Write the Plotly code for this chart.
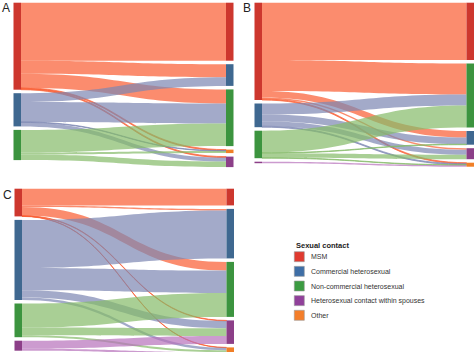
import plotly.graph_objects as go

# ---------------- data ----------------
categories = ["MSM", "Commercial heterosexual", "Non-commercial heterosexual",
              "Heterosexual contact within spouses", "Other"]
legend_title = "Sexual contact"
panel_labels = ["A", "B", "C"]

node_colors = ["#CD372E", "#3F6890", "#3C943F", "#8C3F88", "#F07F27"]
link_colors = ["rgba(249,91,49,0.7)", "rgba(124,134,178,0.7)", "rgba(132,187,104,0.7)",
               "rgba(182,112,186,0.7)", "rgba(244,134,48,0.7)"]
legend_colors = ["#E03A2F", "#3E6EA6", "#3B9B41", "#90409A", "#F47E2A"]

# flow matrices: rows = source category (left column), cols = target category (right column)
# order of rows/cols follows `categories`
flows_A = [
    [58.0, 13.0, 14.0, 1.0, 1.0],
    [0.0, 8.7, 20.0, 4.0, 0.5],
    [0.0, 0.0, 22.7, 5.5, 2.0],
    [0.0, 0.0, 0.0, 0.0, 0.0],
]
left_A = [0, 1, 2]
right_A = [0, 1, 2, 4, 3]

flows_B = [
    [57.3, 6.5, 31.0, 1.5, 1.0],
    [0.0, 6.7, 11.0, 5.0, 1.0],
    [0.0, 0.5, 22.0, 4.5, 0.5],
    [0.0, 0.0, 0.0, 0.0, 1.5],
]
left_B = [0, 1, 2, 3]
right_B = [0, 2, 1, 3, 4]

flows_C = [
    [16.7, 1.5, 8.7, 0.5, 0.3],
    [0.0, 48.0, 22.3, 7.3, 2.5],
    [0.0, 0.0, 24.0, 7.7, 2.0],
    [0.0, 0.0, 0.0, 8.0, 2.0],
]
left_C = [0, 1, 2, 3]
right_C = [0, 1, 2, 3, 4]

# ---------------- layout helpers ----------------
W, H = 474, 352
THICK = 7.5
GAP = 3.5


def sankey_trace(flows, left_order, right_order, box):
    x0, x1, ytop, ybot = box
    dw = x1 - x0
    dh = ybot - ytop
    nrows = len(flows)
    left_vals = [sum(flows[c]) for c in left_order]
    right_vals = [sum(flows[r][c] for r in range(nrows)) for c in right_order]
    total = sum(left_vals)
    ncol = max(len(left_order), len(right_order))
    pad = (dh - total) / (ncol - 1)  # gives 1 px per unit

    xs, ys, cols = [], [], []
    for order, vals, xf in ((left_order, left_vals, THICK / 2 / dw),
                            (right_order, right_vals, 1 - THICK / 2 / dw)):
        cum = 0.0
        for c, v in zip(order, vals):
            xs.append(xf)
            ys.append((cum + v / 2) / dh)
            cols.append(node_colors[c])
            cum += v + GAP

    src, tgt, val, lcol = [], [], [], []
    nl = len(left_order)
    for i, s in enumerate(left_order):
        for j, t in enumerate(right_order):
            v = flows[s][t]
            if v > 0:
                src.append(i)
                tgt.append(nl + j)
                val.append(v)
                lcol.append(link_colors[s])

    return go.Sankey(
        arrangement="fixed",
        domain=dict(x=[x0 / W, min(x1 / W, 1)], y=[max(1 - ybot / H, 0), 1 - ytop / H]),
        node=dict(label=[""] * len(xs), x=xs, y=ys, color=cols, pad=pad,
                  thickness=THICK, line=dict(width=0)),
        link=dict(source=src, target=tgt, value=val, color=lcol),
        hoverinfo="none",
    )


fig = go.Figure()
fig.add_trace(sankey_trace(flows_A, left_A, right_A, (13.5, 233.5, 2.7, 165.7)))
fig.add_trace(sankey_trace(flows_B, left_B, right_B, (254.5, 474.0, 2.7, 165.7)))
fig.add_trace(sankey_trace(flows_C, left_C, right_C, (14.5, 234.0, 188.7, 352.0)))

annotations = []
for lab, (px, py) in zip(panel_labels, [(0, 7.5), (241, 7.5), (1, 194.5)]):
    annotations.append(dict(text=lab, x=px / W, y=1 - py / H, xref="paper", yref="paper",
                            xanchor="left", yanchor="middle", showarrow=False,
                            font=dict(family="Liberation Sans, Arial", size=12, color="#222222")))

# legend (drawn)
shapes = []
lx, ly0, step, sq = 294.3, 256.7, 14.65, 10.0
annotations.append(dict(text="<b>" + legend_title + "</b>", x=lx / W, y=1 - 245.7 / H,
                        xref="paper", yref="paper", xanchor="left", yanchor="middle",
                        showarrow=False,
                        font=dict(family="Liberation Sans, Arial", size=7.5, color="#222222")))
for i, (name, col) in enumerate(zip(categories, legend_colors)):
    yc = ly0 + i * step
    shapes.append(dict(type="rect", xref="paper", yref="paper",
                       x0=lx / W, x1=(lx + sq) / W, y0=1 - (yc + sq / 2) / H, y1=1 - (yc - sq / 2) / H,
                       fillcolor=col, line=dict(color="#9a9a9a", width=0.6)))
    annotations.append(dict(text=name, x=(lx + 14.5) / W, y=1 - yc / H, xref="paper", yref="paper",
                            xanchor="left", yanchor="middle", showarrow=False,
                            font=dict(family="Liberation Sans, Arial", size=7, color="#333333")))

fig.update_layout(width=W, height=H, margin=dict(l=0, r=0, t=0, b=0),
                  paper_bgcolor="white", plot_bgcolor="white",
                  annotations=annotations, shapes=shapes, showlegend=False)

fig.write_html("out.html")
